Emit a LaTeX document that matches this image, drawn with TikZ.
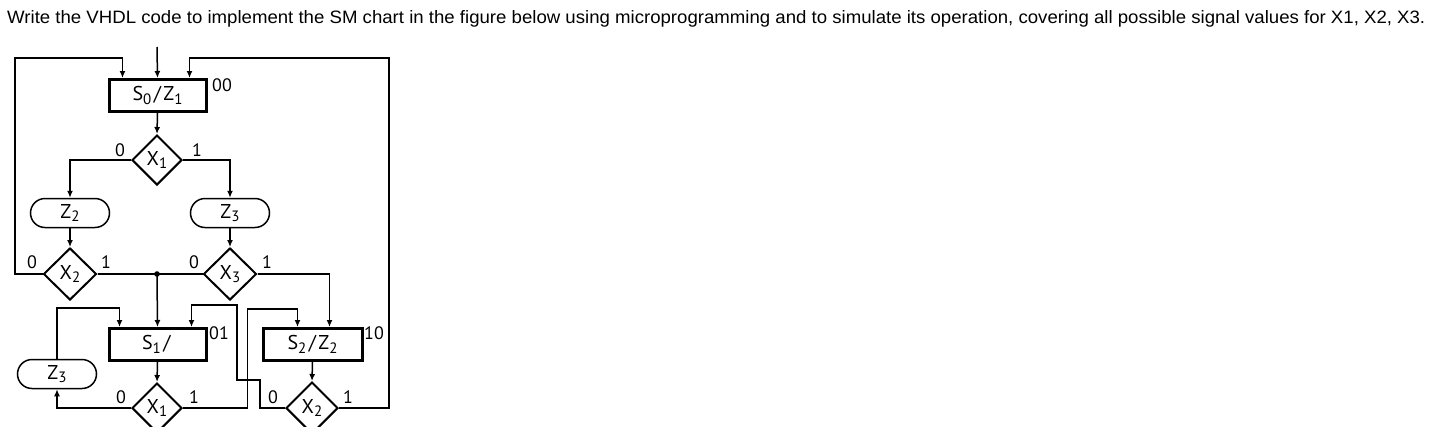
\documentclass[tikz,border=0pt]{standalone}
\usepackage{fontspec}
\setmainfont{PT Sans}
\newfontfamily\titlefont{Liberation Sans}
\usetikzlibrary{shapes.geometric,arrows.meta,calc}
\tikzset{
  conn/.style={line width=1.5pt},
  arr/.style={conn,-{Latex[length=7pt,width=6pt]}},
  statebox/.style={draw,line width=3pt,minimum width=97pt,minimum height=32pt,inner sep=0pt,font=\fontsize{20}{22}\selectfont},
  decbox/.style={draw,diamond,aspect=1,line width=2pt,minimum width=50pt,minimum height=50pt,inner sep=0pt,font=\fontsize{20}{22}\selectfont},
  condout/.style={draw,rectangle,rounded corners=14.5pt,line width=1.5pt,minimum width=79pt,minimum height=29pt,inner sep=0pt,font=\fontsize{20}{22}\selectfont},
  lab/.style={inner sep=0pt,font=\fontsize{18}{20}\selectfont},
}
\newcommand{\sbs}[1]{\raisebox{-0.35ex}{\fontsize{15}{17}\selectfont #1}}
\newcommand{\slsh}{\hspace{2.5pt}/\hspace{2.5pt}}
\begin{document}
\begin{tikzpicture}[x=1pt,y=-1pt]
\useasboundingbox (0,0) rectangle (1444,426);
\node[anchor=base west,inner sep=0pt] (title) at (7,23) {\resizebox{1418pt}{13pt}{\titlefont Write the VHDL code to implement the SM chart in the figure below using microprogramming and to simulate its operation, covering all possible signal values for X1, X2, X3.}};

% nodes
\node[statebox] (s0) at (157.5,95.5) {S\sbs{0}\slsh Z\sbs{1}};
\node[decbox] (x1a) at (157,160) {X\sbs{1}};
\node[condout] (z2) at (70,213) {Z\sbs{2}};
\node[condout] (z3a) at (230,213) {Z\sbs{3}};
\node[decbox,minimum width=53pt,minimum height=52pt] (x2a) at (70,274) {X\sbs{2}};
\node[decbox,minimum width=53pt,minimum height=52pt] (x3) at (230,274) {X\sbs{3}};
\coordinate (j) at (157,274);
\node[statebox] (s1) at (157.5,344.5) {S\sbs{1}\slsh\hspace{14pt}};
\node[statebox,minimum width=99pt] (s2) at (312.5,344.5) {S\sbs{2}\slsh Z\sbs{2}};
\node[condout] (z3b) at (57,374) {Z\sbs{3}};
\node[decbox] (x1b) at (157,408) {X\sbs{1}};
\node[decbox,minimum width=52pt,minimum height=52pt] (x2b) at (312,408) {X\sbs{2}};
\coordinate (entry) at (157,47);

% state codes
\node[lab] (c00) at (222,85) {00};
\node[lab] (c01) at (219,333) {01};
\node[lab] (c10) at (374,333) {10};

% branch labels
\node[lab] (l1) at (120,150) {0};
\node[lab] (l2) at (197,150) {1};
\node[lab] (l3) at (32,262) {0};
\node[lab] (l4) at (106,262) {1};
\node[lab] (l5) at (194,262) {0};
\node[lab] (l6) at (267,262) {1};
\node[lab] (l7) at (121,397) {0};
\node[lab] (l8) at (194,397) {1};
\node[lab] (l9) at (273,397) {0};
\node[lab] (l10) at (348,397) {1};

% connectors
\draw[arr] (entry) -- (s0.north);
\draw[arr] (x2a.west) -| (15,58) -| ([xshift=15pt]s0.north west);
\draw[arr] (x2b.east) -| (389,58) -| ([xshift=-18pt]s0.north east);
\draw[arr] (s0.south) -- (x1a.north);
\draw[arr] (x1a.west) -| (z2.north);
\draw[arr] (x1a.east) -| (z3a.north);
\draw[arr] (z2.south) -- (x2a.north);
\draw[arr] (z3a.south) -- (x3.north);
\draw[conn] (x2a.east) -- (x3.west);
\fill (j) circle (2.8pt);
\draw[arr] (j) -- (s1.north);
\draw[arr] (x3.east) -| ([xshift=-34pt]s2.north east);
\draw[arr] (z3b.north) |- ([xshift=12pt,yshift=19pt]s1.north west) -- ([xshift=12pt]s1.north west);
\draw[arr] (x1b.west) -| (z3b.south);
\draw[arr] (x1b.east) -| ([xshift=-14pt,yshift=18pt]s2.north west) -| ([xshift=36pt]s2.north west);
\draw[arr] (x2b.west) -| (260,380) -| (237,305) -| ([xshift=-16pt]s1.north east);
\draw[arr] (s1.south) -- (x1b.north);
\draw[arr] (s2.south) -- (x2b.north);
\end{tikzpicture}
\end{document}
